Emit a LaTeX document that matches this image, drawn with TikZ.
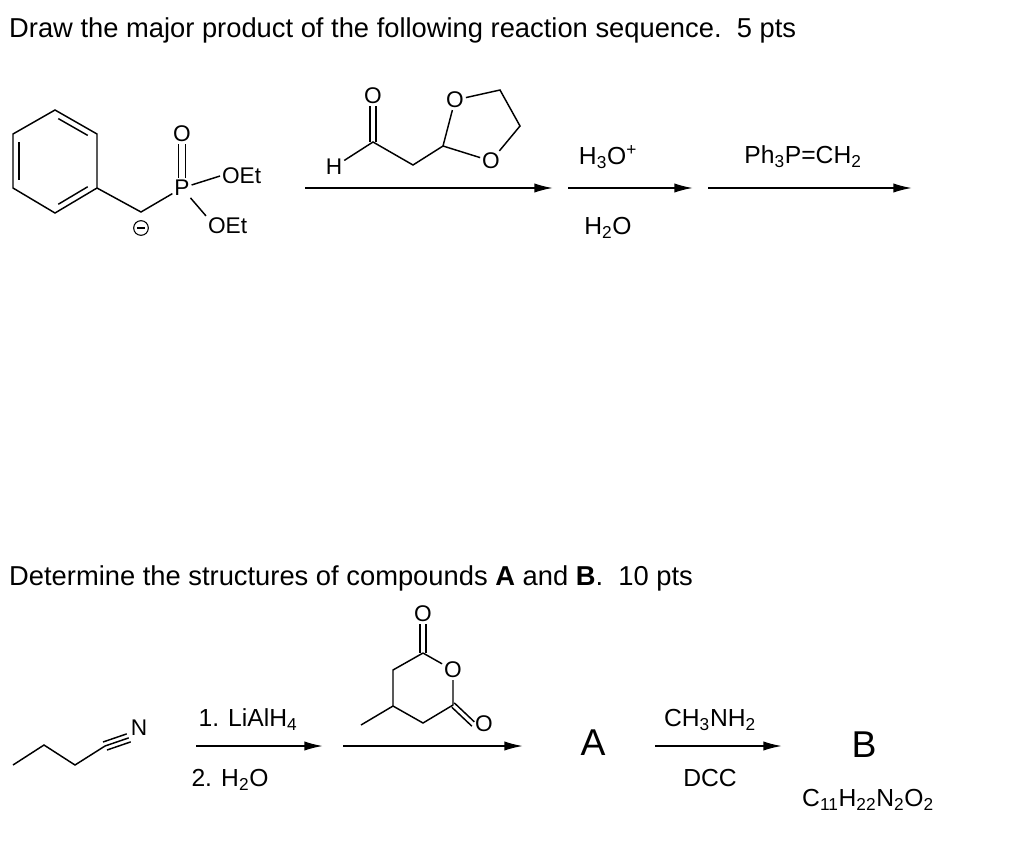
\documentclass[tikz,border=0pt]{standalone}
\usepackage{fontspec}
\setmainfont{Liberation Sans}
\usetikzlibrary{calc,arrows.meta}
\newcommand{\sbs}[1]{\textsubscript{#1}}
\begin{document}
\begin{tikzpicture}[x=0.75pt,y=-0.75pt,line width=1.1pt,
  atom/.style={inner sep=1pt,font=\fontsize{17}{19}\selectfont},
  lab/.style={font=\fontsize{18.5}{21}\selectfont},
  big/.style={font=\fontsize{28}{30}\selectfont},
  ttl/.style={font=\fontsize{20.5}{23}\selectfont,anchor=west},
  arr/.style={-{Latex[length=14pt,width=7pt]},line width=1.3pt}]
\useasboundingbox (0,0) rectangle (1024,858);
\node[ttl] (t1) at (4,30) {Draw the major product of the following reaction sequence.\ \ 5 pts};
\node[ttl] (t2) at (4,578) {Determine the structures of compounds \textbf{A} and \textbf{B}.\ \ 10 pts};
% benzyl phosphonate anion
\coordinate (b1) at (55,110); \coordinate (b2) at (97,134); \coordinate (b3) at (97,188);
\coordinate (b4) at (55,213); \coordinate (b5) at (13,188); \coordinate (b6) at (13,134);
\draw (b1)--(b2)--(b3)--(b4)--(b5)--(b6)--cycle;
\draw ($(b1)!0.15!(b2)+(-3,5)$) -- ($(b1)!0.85!(b2)+(-3,5)$);
\draw ($(b3)!0.15!(b4)+(-3,-5)$) -- ($(b3)!0.85!(b4)+(-3,-5)$);
\draw ($(b5)!0.15!(b6)+(6,0)$) -- ($(b5)!0.85!(b6)+(6,0)$);
\coordinate (ch) at (141,212);
\node[atom] (P) at (182,188) {P};
\node[atom] (Po) at (182,134) {O};
\node[atom,anchor=west] (oe1) at (220,176) {OEt};
\node[atom,anchor=west] (oe2) at (206,226) {OEt};
\node[circle,draw,line width=0.8pt,inner sep=0pt,minimum size=11pt] (neg) at (141,228) {};
\draw[line width=0.8pt] ($(neg)+(-4,0)$) -- ($(neg)+(4,0)$);
\draw (b3)--(ch)--(P);
\draw ([xshift=-2.5pt]P.north) -- ([xshift=-2.5pt]Po.south);
\draw ([xshift=2.5pt]P.north) -- ([xshift=2.5pt]Po.south);
\draw (P)--(oe1.west); \draw (P)--(oe2.north west);
% aldehyde acetal
\node[atom] (H) at (334,167) {H};
\coordinate (c1) at (373,142);
\node[atom] (o1) at (373,96) {O};
\coordinate (c2) at (413,165); \coordinate (c3) at (443,146);
\node[atom] (ra) at (455,100) {O}; \coordinate (r1) at (500,90);
\coordinate (r2) at (520,126); \node[atom] (rb) at (491,161) {O};
\draw (H)--(c1)--(c2)--(c3)--(ra)--(r1)--(r2)--(rb)--(c3);
\draw ([xshift=-2.2pt]c1) -- ([xshift=-2.2pt]o1.south);
\draw ([xshift=2.2pt]c1) -- ([xshift=2.2pt]o1.south);
% arrows top
\coordinate (a1s) at (305,188); \coordinate (a1e) at (553,188);
\coordinate (a2s) at (568,188); \coordinate (a2e) at (693,188);
\coordinate (a3s) at (708,188); \coordinate (a3e) at (912,188);
\draw[arr] (a1s)--(a1e); \draw[arr] (a2s)--(a2e); \draw[arr] (a3s)--(a3e);
\node[lab] (l1) at (608,157) {H\sbs{3}O\textsuperscript{+}};
\node[lab] (l2) at (608,228) {H\sbs{2}O};
\node[lab] (l3) at (803,157) {Ph\sbs{3}P=CH\sbs{2}};
% nitrile
\coordinate (n1) at (13,765); \coordinate (n2) at (44,745); \coordinate (n3) at (75,765);
\coordinate (n4) at (105,746); \node[atom] (N) at (139,728) {N};
\draw (n1)--(n2)--(n3)--(n4);
\draw (n4)--(N.south west);
\draw ($(n4)+(-2,-4)$)--($(N.south west)+(-2,-4)$);
\draw ($(n4)+(2,4)$)--($(N.south west)+(2,4)$);
\draw[arr] (196,746)--(323,746);
\node[lab] (l4) at (248,720) {1. LiAlH\sbs{4}};
\node[lab] (l5) at (230,780) {2. H\sbs{2}O};
% anhydride
\coordinate (k1) at (423,653); \node[atom] (ko) at (423,614) {O};
\node[atom] (kr) at (453,670) {O}; \coordinate (k2) at (453,705);
\node[atom] (ke) at (484,724) {O};
\coordinate (k3) at (423,723); \coordinate (k4) at (393,706); \coordinate (k5) at (393,670);
\coordinate (me) at (361,725);
\draw (k1)--(kr)--(k2)--(k3)--(k4)--(k5)--(k1);
\draw (k4)--(me);
\draw ([xshift=-2.2pt]k1)--([xshift=-2.2pt]ko.south);
\draw ([xshift=2.2pt]k1)--([xshift=2.2pt]ko.south);
\draw ($(k2)+(-1.2,2.2)$)--($(ke.west)+(-1.2,2.2)$);
\draw ($(k2)+(1.2,-2.2)$)--($(ke.west)+(1.2,-2.2)$);
\draw[arr] (343,746)--(523,746);
\node[big] (A) at (593,743) {A};
\draw[arr] (655,746)--(782,746);
\node[lab] (l6) at (710,720) {CH\sbs{3}NH\sbs{2}};
\node[lab] (l7) at (710,778) {DCC};
\node[big] (B) at (864,745) {B};
\node[lab] (l8) at (868,800) {C\sbs{11}H\sbs{22}N\sbs{2}O\sbs{2}};
\end{tikzpicture}
\end{document}
